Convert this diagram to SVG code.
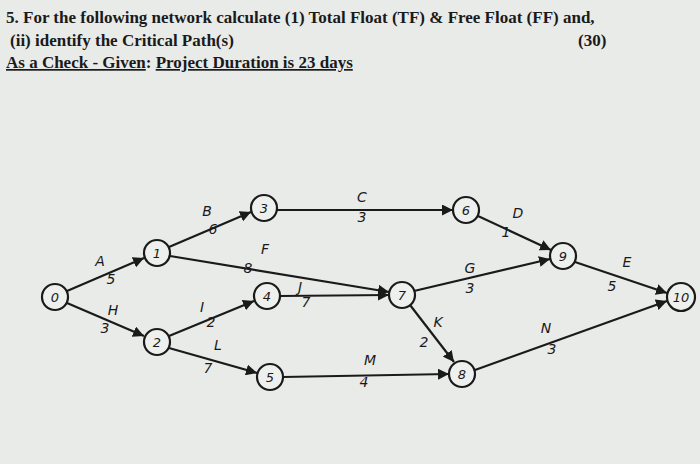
<svg xmlns="http://www.w3.org/2000/svg" width="700" height="464" viewBox="0 0 700 464">
<style>
.h{font-family:"Liberation Serif",serif;font-size:17px;fill:#1a1a1a;font-weight:bold}
.n circle{fill:#eef0ee;stroke:#1a1a1a;stroke-width:2.2}
.n text{font-family:"DejaVu Sans",sans-serif;font-size:13px;font-style:italic;text-anchor:middle;fill:#1a1a1a}
.l{font-family:"DejaVu Sans",sans-serif;font-size:14px;font-style:italic;text-anchor:middle;fill:#1a1a1a}
#edges line{stroke:#1a1a1a;stroke-width:2.2;marker-end:url(#a)}
</style>
<defs><marker id="a" viewBox="0 0 10 10" refX="10" refY="5" markerWidth="5" markerHeight="5" orient="auto"><path d="M0,0L10,5L0,10z" fill="#1a1a1a"/></marker></defs>
<rect width="700" height="464" fill="#e9ebe9"/>
<text class="h" x="6" y="23">5. For the following network calculate (1) Total Float (TF) &amp; Free Float (FF) and,</text>
<text class="h" x="10" y="46" font-weight="normal">(ii) identify the Critical Path(s)</text>
<text class="h" x="578" y="46">(30)</text>
<text class="h" x="6" y="68"><tspan text-decoration="underline">As a Check - Given</tspan>: <tspan text-decoration="underline">Project Duration is 23 days</tspan></text>
<g id="edges">
<line x1="67" y1="291" x2="144" y2="258"/>
<line x1="67" y1="303" x2="144" y2="336"/>
<line x1="169" y1="247" x2="251" y2="212"/>
<line x1="170" y1="256" x2="389" y2="292"/>
<line x1="169" y1="336" x2="254" y2="301"/>
<line x1="169" y1="348" x2="257" y2="373"/>
<line x1="277" y1="210" x2="453" y2="210"/>
<line x1="280" y1="296" x2="389" y2="295"/>
<line x1="283" y1="377" x2="449" y2="374"/>
<line x1="478" y1="216" x2="551" y2="250"/>
<line x1="414" y1="291" x2="550" y2="259"/>
<line x1="410" y1="305" x2="454" y2="362"/>
<line x1="575" y1="262" x2="667" y2="293"/>
<line x1="475" y1="370" x2="667" y2="301"/>
</g>
<g id="n0" class="n"><circle cx="55" cy="297" r="13"/><text x="55" y="302">0</text></g>
<g id="n1" class="n"><circle cx="157" cy="253" r="13"/><text x="157" y="258">1</text></g>
<g id="n2" class="n"><circle cx="157" cy="342" r="13"/><text x="157" y="347">2</text></g>
<g id="n3" class="n"><circle cx="264" cy="208" r="13"/><text x="264" y="213">3</text></g>
<g id="n4" class="n"><circle cx="267" cy="296" r="13"/><text x="267" y="301">4</text></g>
<g id="n5" class="n"><circle cx="270" cy="377" r="13"/><text x="270" y="382">5</text></g>
<g id="n6" class="n"><circle cx="466" cy="210" r="13"/><text x="466" y="215">6</text></g>
<g id="n7" class="n"><circle cx="402" cy="295" r="13"/><text x="402" y="300">7</text></g>
<g id="n8" class="n"><circle cx="462" cy="374" r="13"/><text x="462" y="379">8</text></g>
<g id="n9" class="n"><circle cx="563" cy="256" r="13"/><text x="563" y="261">9</text></g>
<g id="n10" class="n"><circle cx="681" cy="297" r="14"/><text x="681" y="302" font-size="11">10</text></g>
<g id="labels">
<text class="l" x="100" y="266">A</text><text class="l" x="111" y="284">5</text>
<text class="l" x="113" y="315">H</text><text class="l" x="105" y="333">3</text>
<text class="l" x="207" y="216">B</text><text class="l" x="213" y="234">6</text>
<text class="l" x="265" y="254">F</text><text class="l" x="248" y="273">8</text>
<text class="l" x="202" y="312">I</text><text class="l" x="211" y="327">2</text>
<text class="l" x="218" y="350">L</text><text class="l" x="208" y="373">7</text>
<text class="l" x="300" y="292">J</text><text class="l" x="306" y="307">7</text>
<text class="l" x="362" y="202">C</text><text class="l" x="362" y="222">3</text>
<text class="l" x="370" y="365">M</text><text class="l" x="364" y="387">4</text>
<text class="l" x="518" y="218">D</text><text class="l" x="506" y="237">1</text>
<text class="l" x="470" y="273">G</text><text class="l" x="470" y="293">3</text>
<text class="l" x="438" y="327">K</text><text class="l" x="424" y="347">2</text>
<text class="l" x="546" y="333">N</text><text class="l" x="552" y="354">3</text>
<text class="l" x="627" y="267">E</text><text class="l" x="612" y="291">5</text>
</g>
</svg>
